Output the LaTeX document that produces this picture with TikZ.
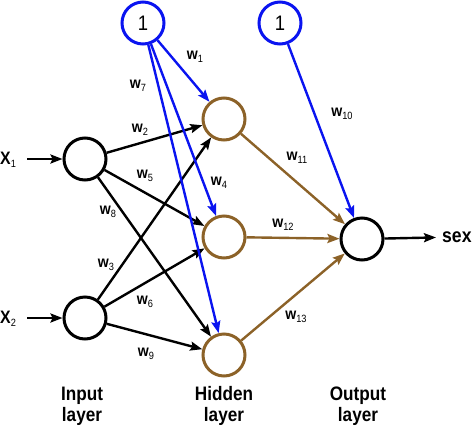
\documentclass[tikz,border=0pt]{standalone}
\usepackage{fontspec}
\setmainfont{Liberation Sans}[FakeStretch=0.88]
\usetikzlibrary{arrows.meta}
\definecolor{biasblue}{RGB}{10,20,240}
\definecolor{hidbrown}{RGB}{140,98,40}
\newcommand{\wl}[1]{{\fontsize{16}{16}\selectfont\bfseries w}\raisebox{-2.5pt}{\fontsize{10.5}{10.5}\selectfont #1}}
\begin{document}
\begin{tikzpicture}[x=1pt,y=-1pt,
  neuron/.style={circle,draw,line width=3pt,minimum size=42pt,inner sep=0pt},
  bias/.style={neuron,draw=biasblue,font=\fontsize{21}{21}\selectfont},
  hid/.style={neuron,draw=hidbrown},
  conn/.style={line width=2.4pt,-{Stealth[length=12pt,width=9pt,inset=2pt]}},
  wlab/.style={inner sep=0pt},
  layerlab/.style={align=center,font=\fontsize{19.5}{21}\selectfont\bfseries,inner sep=0pt}]
\useasboundingbox (0,0) rectangle (474,429);
\node[bias] (B1) at (143,23) {1};
\node[bias] (B2) at (280,23) {1};
\node[neuron] (I1) at (85,159) {};
\node[neuron] (I2) at (85,318) {};
\node[hid] (H1) at (224,119) {};
\node[hid] (H2) at (224,237) {};
\node[hid] (H3) at (224,355) {};
\node[neuron] (O) at (362,239) {};
\node[inner sep=0pt,anchor=west] (X1) at (0,160) {{\fontsize{18}{18}\selectfont\bfseries X}\raisebox{-2.5pt}{\fontsize{10.5}{10.5}\selectfont 1}};
\node[inner sep=0pt,anchor=west] (X2) at (0,319) {{\fontsize{18}{18}\selectfont\bfseries X}\raisebox{-2.5pt}{\fontsize{10.5}{10.5}\selectfont 2}};
\node[inner sep=0pt,anchor=west,font=\fontsize{20}{20}\selectfont\bfseries] (sex) at (442,237) {sex};
\coordinate (x1in) at (27,159);
\coordinate (x2in) at (27,318);
% inputs
\draw[conn] (x1in) -- (I1);
\draw[conn] (x2in) -- (I2);
% input to hidden
\draw[conn] (I1) -- (H1);
\draw[conn] (I1) -- (H2);
\draw[conn] (I1) -- (H3);
\draw[conn] (I2) -- (H1);
\draw[conn] (I2) -- (H2);
\draw[conn] (I2) -- (H3);
% bias
\draw[conn,biasblue] (B1) -- (H1);
\draw[conn,biasblue] (B1) -- (H2);
\draw[conn,biasblue] (B1) -- (H3);
\draw[conn,biasblue] (B2) -- (O);
% hidden to output
\draw[conn,hidbrown] (H1) -- (O);
\draw[conn,hidbrown] (H2) -- (O);
\draw[conn,hidbrown] (H3) -- (O);
\draw[conn,shorten >=6pt] (O) -- (sex);
% weight labels
\node[wlab] (w1) at (195,57) {\wl{1}};
\node[wlab] (w7) at (138,86) {\wl{7}};
\node[wlab] (w2) at (140,130) {\wl{2}};
\node[wlab] (w5) at (145,176) {\wl{5}};
\node[wlab] (w4) at (219,183) {\wl{4}};
\node[wlab] (w8) at (108,212) {\wl{8}};
\node[wlab] (w3) at (106,265) {\wl{3}};
\node[wlab] (w6) at (145,302) {\wl{6}};
\node[wlab] (w9) at (146,354) {\wl{9}};
\node[wlab] (w10) at (342,114) {\wl{10}};
\node[wlab] (w11) at (297,158) {\wl{11}};
\node[wlab] (w12) at (283,225) {\wl{12}};
\node[wlab] (w13) at (296,317) {\wl{13}};
% layer labels
\node[layerlab] (Lin) at (82,406) {Input\\layer};
\node[layerlab] (Lhid) at (224,406) {Hidden\\layer};
\node[layerlab] (Lout) at (358,406) {Output\\layer};
\end{tikzpicture}
\end{document}
